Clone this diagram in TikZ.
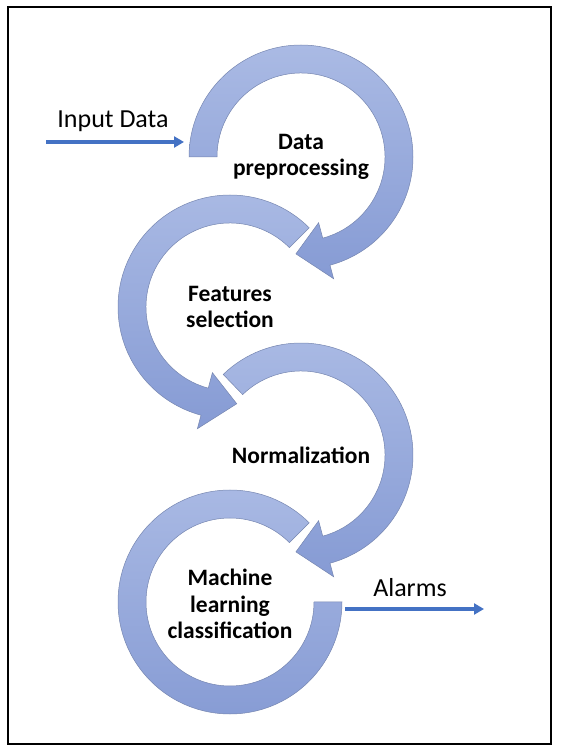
\documentclass[tikz,border=0pt]{standalone}
\usepackage{fontspec}
\setmainfont{Carlito}
\usetikzlibrary{arrows.meta}
\usetikzlibrary{calc}
\definecolor{ringtop}{RGB}{170,186,228}
\definecolor{ringbot}{RGB}{134,155,212}
\definecolor{ringline}{RGB}{118,134,176}
\definecolor{flowblue}{RGB}{68,114,196}
\tikzset{
	ringarrow/.style={draw=ringline, line width=0.5pt, top color=ringtop, bottom color=ringbot},
	steplabel/.style={align=center, font=\fontsize{23.5}{26.5}\selectfont\bfseries},
	iolabel/.style={font=\fontsize{26}{30}\selectfont},
	ioarrow/.style={draw=flowblue, line width=3.2pt, -{Triangle[length=10pt,width=11pt]}},
}

\begin{document}
\begin{tikzpicture}[x=1pt, y=1pt]
		\useasboundingbox (0,0) rectangle (561,756);
		\draw[line width=1.6pt] (8,12) rectangle (551,749);
		\coordinate (c1) at (301,599);
		\coordinate (c2) at (230,449);
		\coordinate (c3) at (301,301);
		\coordinate (c4) at (230,154);
		% clockwise, Data preprocessing
		\draw[ringarrow] ($(c1)+(180:112pt)$) arc[start angle=180, end angle=-75, radius=112pt]
			-- ($(c1)+(-75:126pt)$) -- ($(c1)+(-93:97pt)$) -- ($(c1)+(-75:68pt)$)
			-- ($(c1)+(-75:84pt)$) arc[start angle=-75, end angle=180, radius=84pt] -- cycle;
		% counterclockwise, Features selection
		\draw[ringarrow] ($(c2)+(45:112pt)$) arc[start angle=45, end angle=255, radius=112pt]
			-- ($(c2)+(255:126pt)$) -- ($(c2)+(274:97pt)$) -- ($(c2)+(255:68pt)$)
			-- ($(c2)+(255:84pt)$) arc[start angle=255, end angle=45, radius=84pt] -- cycle;
		% clockwise, Normalization
		\draw[ringarrow] ($(c3)+(134:112pt)$) arc[start angle=134, end angle=-75, radius=112pt]
			-- ($(c3)+(-75:126pt)$) -- ($(c3)+(-93:97pt)$) -- ($(c3)+(-75:68pt)$)
			-- ($(c3)+(-75:84pt)$) arc[start angle=-75, end angle=134, radius=84pt] -- cycle;
		% last one has no head
		\draw[ringarrow] ($(c4)+(45:112pt)$) arc[start angle=45, end angle=360, radius=112pt]
			-- ($(c4)+(0:84pt)$) arc[start angle=360, end angle=45, radius=84pt] -- cycle;
		\node[steplabel] (prep) at (c1) {Data\\preprocessing};
		\node[steplabel] (feat) at (c2) {Features\\selection};
		\node[steplabel] (norm) at (c3) {Normalization};
		\node[steplabel] (mlc) at ($(c4)+(0,-2)$) {Machine\\learning\\classification};
		% input and output
		\coordinate (inA) at (46,614);
		\coordinate (inB) at (184,614);
		\node[iolabel, anchor=base] (inlabel) at (113,628) {Input Data};
		\draw[ioarrow] (inA) -- (inB);
		\coordinate (outA) at (345,147);
		\coordinate (outB) at (484,147);
		\node[iolabel, anchor=base] (outlabel) at (410,159) {Alarms};
		\draw[ioarrow] (outA) -- (outB);
	 \end{tikzpicture}
\end{document}
